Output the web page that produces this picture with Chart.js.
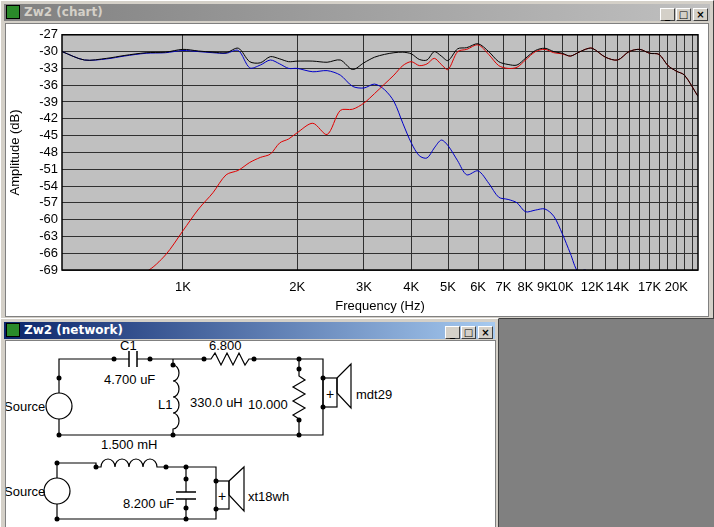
<!DOCTYPE html>
<html><head><meta charset="utf-8">
<script src="https://cdn.jsdelivr.net/npm/chart.js@4.4.0/dist/chart.umd.min.js"></script>
<style>
body{margin:0;width:714px;height:527px;overflow:hidden;background:#808080;font-family:"Liberation Sans",Arial,sans-serif;position:relative}
.win{position:absolute;background:#d4d0c8;border:1px solid #fff;border-right-color:#404040;border-bottom-color:#404040;box-sizing:border-box}
.tb{position:absolute;left:3px;right:3px;top:3px;height:17px;color:#fff;font-weight:bold;font-size:12px;line-height:17px;padding-left:20px;font-family:"DejaVu Sans",sans-serif}
.ic{position:absolute;left:2px;top:1px;width:14px;height:14px;background:#2a8a2a;border:1px solid #000;box-sizing:border-box}
.btns{position:absolute;right:2px;top:2px;height:14px}
.btn{display:inline-block;width:15px;height:13px;background:#d4d0c8;border:1px solid #fff;border-right-color:#404040;border-bottom-color:#404040;margin-left:1px;color:#000;font-size:10px;line-height:12px;text-align:center;box-sizing:border-box;font-weight:bold}
.client{position:absolute;background:#fff;border:1px solid #808080;box-sizing:border-box}
</style></head><body>
<div class="win" style="left:0;top:0;width:714px;height:319px">
  <div class="tb" style="background:linear-gradient(90deg,#808080,#c0c0c0);color:#d4d0c8"><div class="ic"></div>Zw2 (chart)
    <div class="btns"><span class="btn">_</span><span class="btn">□</span><span class="btn" style="margin-left:2px">×</span></div></div>
  <div class="client" style="left:4px;top:22px;width:704px;height:294px">
  </div>
</div>
<canvas id="c" style="position:absolute;left:5px;top:23px;width:702px;height:292px"></canvas>
<div class="win" style="left:0;top:318px;width:499px;height:215px">
  <div class="tb" style="background:linear-gradient(90deg,#0a246a,#a6caf0)"><div class="ic"></div>Zw2 (network)
    <div class="btns"><span class="btn">_</span><span class="btn">□</span><span class="btn" style="margin-left:2px">×</span></div></div>
  <div class="client" style="left:4px;top:21px;width:491px;height:200px;overflow:hidden">
  <svg width="491" height="200" viewBox="4 339 491 200" style="position:absolute;left:-1px;top:-1px" font-family="Liberation Sans, Arial" font-size="13" fill="none" stroke="#000" stroke-width="1.2">
   <g>
    <path d="M58,392 V358 H128 M136,358 H203 M253,358 H322 V406 M322,406 V434 H58 V418"/>
    <path d="M128,350 V366 M136,350 V366" stroke-width="1.5"/>
    <circle cx="58" cy="405" r="13"/>
    <path d="M203,358 H210 l4,-6 l6,12 l6,-12 l6,12 l6,-12 l6,12 l4,-6 H253"/>
    <path d="M172,358 V364 a6,8 0 1 1 0,16 a6,8 0 1 1 0,16 a6,8 0 1 1 0,16 a6,8 0 1 1 0,16 V434"/>
    <path d="M298,358 V375 l6,4 l-12,7 l12,7 l-12,7 l12,7 l-12,7 l6,4 V434"/>
    <rect x="322" y="377" width="14" height="29"/>
    <path d="M336,377 L350,363 V407 L336,392 V377"/>
   </g>
   <g fill="#000" stroke="none">
    <circle cx="58" cy="377" r="2.5"/><circle cx="58" cy="434" r="2.5"/>
    <circle cx="113" cy="358" r="2.5"/><circle cx="149" cy="358" r="2.5"/>
    <circle cx="172" cy="364" r="2.5"/><circle cx="172" cy="434" r="2.5"/>
    <circle cx="203" cy="358" r="2.5"/><circle cx="253" cy="358" r="2.5"/>
    <circle cx="298" cy="358" r="2.5"/><circle cx="298" cy="368" r="2.5"/>
    <circle cx="298" cy="419" r="2.5"/><circle cx="298" cy="434" r="2.5"/>
    <circle cx="322" cy="377" r="2.5"/><circle cx="322" cy="406" r="2.5"/>
    <text x="119" y="349">C1</text>
    <text x="103" y="383">4.700 uF</text>
    <text x="208" y="349">6.800</text>
    <text x="157" y="408">L1</text>
    <text x="189" y="406">330.0 uH</text>
    <text x="247" y="408">10.000</text>
    <text x="325" y="398" font-size="14">+</text>
    <text x="355" y="398">mdt29</text>
    <text x="3" y="410">Source</text>
    <text x="3" y="495">Source</text>
    <text x="100" y="448">1.500 mH</text>
    <text x="122" y="507">8.200 uF</text>
    <text x="217" y="500" font-size="14">+</text>
    <text x="247" y="500">xt18wh</text>
    <circle cx="56" cy="462" r="2.5"/><circle cx="56" cy="518" r="2.5"/>
    <circle cx="95" cy="466" r="2.5"/><circle cx="165" cy="466" r="2.5"/>
    <circle cx="185" cy="466" r="2.5"/><circle cx="185" cy="478" r="2.5"/>
    <circle cx="185" cy="507" r="2.5"/><circle cx="185" cy="518" r="2.5"/>
    <circle cx="215" cy="480" r="2.5"/><circle cx="215" cy="508" r="2.5"/>
   </g>
   <g>
    <circle cx="56" cy="490" r="13"/>
    <path d="M56,477 V462 H95 V466 H100 a7,8 0 0 1 14,0 a7,8 0 0 1 14,0 a7,8 0 0 1 14,0 a7,8 0 0 1 14,0 H215 V480 M215,508 V518 H56 V503"/>
    <path d="M185,466 V491 M185,498 V518"/>
    <path d="M175,491 H195 M175,498 H195" stroke-width="1.5"/>
    <rect x="215" y="480" width="13" height="28"/>
    <path d="M228,480 L243,466 V510 L228,494 V480"/>
   </g>
  </svg>
  </div>
</div>
<script>
const freqs=[480,550,630,700,800,900,1000,1100,1200,1300,1400,1500,1600,1700,1800,1900,2000,2200,2400,2600,2800,3000,3200,3400,3600,3800,4000,4200,4400,4600,4800,5000,5300,5600,6000,6400,6800,7200,7600,8000,8500,9000,9500,10000,10500,11000,11500,12000,13000,14000,15000,16000,17000,18000,19000,20000,21000,22800];
const woofer=[-30,-31.5,-31.3,-30.8,-30.3,-30.2,-29.8,-30.0,-30.2,-30.3,-29.8,-32.9,-32.4,-31.5,-32.2,-33.0,-33.0,-33.6,-33.4,-34.2,-36.2,-36.5,-35.8,-36.8,-38.9,-42.8,-46.3,-48.6,-49.0,-47.2,-45.8,-46.8,-49.5,-52,-51.3,-53.5,-56,-56.4,-57,-58.6,-58.3,-58.1,-59.4,-62.5,-66,-69.3,-69,-70,-72,-74,-76,-78,-80,-82,-84,-86,-88,-90];
const tweeter=[-74,-72.5,-71,-70,-69.3,-66.3,-62,-58.1,-55.2,-52,-51.2,-49.8,-48.9,-48.3,-46.3,-45.6,-44.5,-42.8,-44.8,-40.5,-40.3,-39.2,-37.5,-35.8,-34.2,-32.5,-31.8,-32.5,-32.2,-31.2,-32.3,-33.2,-30,-29.6,-28.8,-30.5,-32.5,-33,-32.8,-31.5,-30.0,-29.6,-30.2,-30.4,-30.8,-30.2,-29.6,-29.4,-31,-31.5,-30,-29.6,-30.3,-30.5,-32.5,-33.5,-34.2,-38];
const total=[-30,-31.5,-31.2,-30.7,-30.2,-30.1,-29.6,-29.9,-30.1,-30.2,-29.4,-31.8,-32.0,-30.9,-31.3,-31.8,-31.7,-31.7,-31.9,-31.5,-33.2,-32,-31,-30.5,-30.2,-30.1,-30.4,-31.4,-31.5,-30,-30.8,-31.6,-29.5,-29.3,-28.6,-30.0,-31.8,-32.3,-32.4,-31.2,-29.8,-29.4,-30.0,-30.3,-30.8,-30.2,-29.6,-29.4,-31,-31.5,-30,-29.6,-30.3,-30.5,-32.5,-33.5,-34.2,-38];
const gridFreqs=[1000,2000,3000,4000,5000,6000,7000,8000,9000,10000,11000,12000,13000,14000,15000,16000,17000,18000,19000,20000,21000,22000];
const labelFreqs=[1000,2000,3000,4000,5000,6000,7000,8000,9000,10000,12000,14000,17000,20000];
const yTicks=[-27,-30,-33,-36,-39,-42,-45,-48,-51,-54,-57,-60,-63,-66,-69];

const pts=a=>freqs.map((f,i)=>({x:f,y:a[i]}));
const bg={id:'bg',beforeDraw(c){const a=c.chartArea,x=c.ctx;x.save();x.fillStyle='#c0c0c0';x.fillRect(a.left,a.top,a.right-a.left,a.bottom-a.top);x.restore();},
 afterDraw(c){const a=c.chartArea,x=c.ctx;x.save();x.strokeStyle='#000';x.lineWidth=1.5;x.strokeRect(a.left,a.top,a.right-a.left,a.bottom-a.top);x.restore();}};
const font={family:'"Liberation Sans",Arial,sans-serif',size:13};
new Chart(document.getElementById('c'),{
 type:'line',
 data:{datasets:[
  {data:pts(total),borderColor:'#000000'},
  {data:pts(tweeter),borderColor:'#e00000'},
  {data:pts(woofer),borderColor:'#0000c8'}]},
 options:{responsive:false,animation:false,devicePixelRatio:1,
  elements:{point:{radius:0},line:{borderWidth:1,tension:0.3}},
  layout:{padding:{left:3,top:7,right:9,bottom:1}},
  plugins:{legend:{display:false},tooltip:{enabled:false}},
  scales:{
   x:{type:'logarithmic',min:480,max:22800,
    afterBuildTicks(s){s.ticks=gridFreqs.map(v=>({value:v}));},
    afterFit(s){s.height=44;},
    ticks:{autoSkip:false,maxRotation:0,color:'#000',font,padding:10,callback:v=>labelFreqs.includes(v)?(v/1000)+'K':''},
    grid:{color:'#303030',lineWidth:1,drawTicks:false},border:{display:false},
    title:{display:true,text:'Frequency (Hz)',color:'#000',font,padding:{top:0,bottom:0}}},
   y:{min:-69,max:-27,
    afterBuildTicks(s){s.ticks=yTicks.map(v=>({value:v}));},
    afterFit(s){s.width=54;},
    ticks:{autoSkip:false,color:'#000',font,padding:4},
    grid:{color:'#303030',lineWidth:1,drawTicks:false},border:{display:false},
    title:{display:true,text:'Amplitude (dB)',color:'#000',font,padding:{top:0,bottom:2}}}
  }},
 plugins:[bg]});
</script>
</body></html>
